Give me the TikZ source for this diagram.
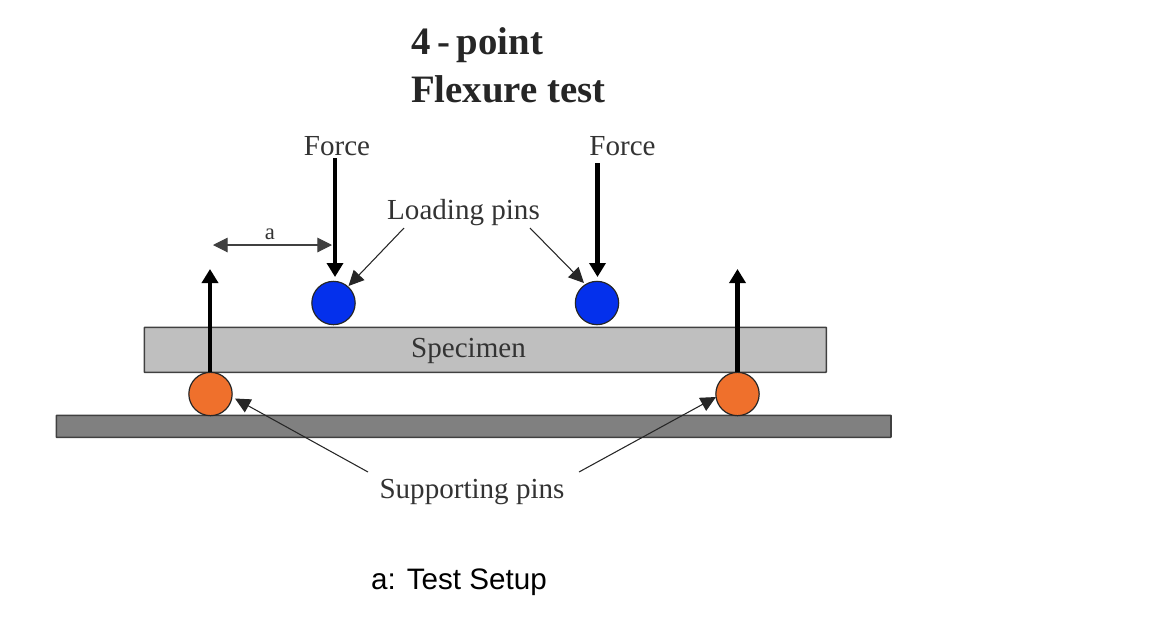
\documentclass[tikz,border=0pt]{standalone}
\usepackage{fontspec}
\setmainfont{Liberation Serif}
\newfontfamily\capfont{Liberation Sans}
\usetikzlibrary{arrows.meta}
\definecolor{pinblue}{HTML}{0430EC}
\definecolor{pinorange}{HTML}{EF702C}
\definecolor{txt}{HTML}{333333}
\tikzset{
  x=0.75pt,y=-0.75pt,
  plate/.style={draw=black!75,line width=1.2pt,rounded corners=0.4pt,inner sep=0pt,anchor=north west},
  pinbase/.style={circle,draw=black!85,line width=0.9pt,minimum size=32.5pt,inner sep=0pt},
  lbl/.style={text=txt,inner sep=0pt,font=\fontsize{21.8pt}{26pt}\selectfont},
  titlefont/.style={text=black!85,inner sep=0pt,anchor=base west,font=\bfseries\fontsize{29.1pt}{32pt}\selectfont},
  force/.style={line width=3.4pt,-{Triangle[length=10.5pt,width=12pt]}},
  leader/.style={draw=black!85,line width=0.8pt,-{Triangle[length=11.5pt,width=11pt]}},
  dim/.style={draw=black!75,line width=0.8pt,{Triangle[length=11pt,width=11pt]}-{Triangle[length=11pt,width=11pt]}}
}
\begin{document}
\begin{tikzpicture}
\useasboundingbox (0,0) rectangle (1152,618);
\node[plate,fill=black!25,minimum width=511.5pt,minimum height=33.75pt] (specimen) at (143.5,326.5) {};
\node[plate,fill=black!50,minimum width=626pt,minimum height=16.5pt] (base) at (55.5,414.5) {};
\node[lbl] (spectext) at (468.5,350.5) {Specimen};
\node[pinbase,fill=pinblue] (load1) at (333.5,303) {};
\node[pinbase,fill=pinblue] (load2) at (597,303) {};
\node[pinbase,fill=pinorange] (sup1) at (210.5,394) {};
\node[pinbase,fill=pinorange] (sup2) at (737.5,394) {};
\node[titlefont] (title1) at (411,54) {4\hspace{0.17em}-\hspace{0.17em}point};
\node[titlefont] (title2) at (411,102) {Flexure test};
\node[lbl] (force1) at (337,146.5) {Force};
\node[lbl] (force2) at (622.5,146.5) {Force};
\node[lbl] (loading) at (463.5,212.5) {Loading pins};
\node[lbl] (supporting) at (472,492.5) {Supporting pins};
\node[lbl,font=\fontsize{17pt}{20pt}\selectfont] (alabel) at (270,234.5) {a};
\node[text=black,inner sep=0pt,anchor=base,font=\capfont\fontsize{22.2pt}{26pt}\selectfont] (caption) at (459,589) {a: Test Setup};
\coordinate (f1s) at (335,158);
\coordinate (f1e) at (335,277);
\coordinate (f2s) at (597.5,163);
\coordinate (f2e) at (597.5,277);
\coordinate (u1e) at (210,269);
\coordinate (u2e) at (737.5,269);
\coordinate (dimL) at (213,245);
\coordinate (dimR) at (332,245);
\coordinate (l1s) at (404,228);
\coordinate (l1e) at (348.5,286);
\coordinate (l2s) at (530,228);
\coordinate (l2e) at (584,283);
\coordinate (s1s) at (368,472);
\coordinate (s1e) at (235,398.5);
\coordinate (s2s) at (579,472);
\coordinate (s2e) at (716,397);
\draw[force] (f1s) -- (f1e);
\draw[force] (f2s) -- (f2e);
\draw[force] (sup1.north -| u1e) -- (u1e);
\draw[force] (sup2.north -| u2e) -- (u2e);
\draw[dim] (dimL) -- (dimR);
\draw[leader] (l1s) -- (l1e);
\draw[leader] (l2s) -- (l2e);
\draw[leader] (s1s) -- (s1e);
\draw[leader] (s2s) -- (s2e);
\end{tikzpicture}
\end{document}
